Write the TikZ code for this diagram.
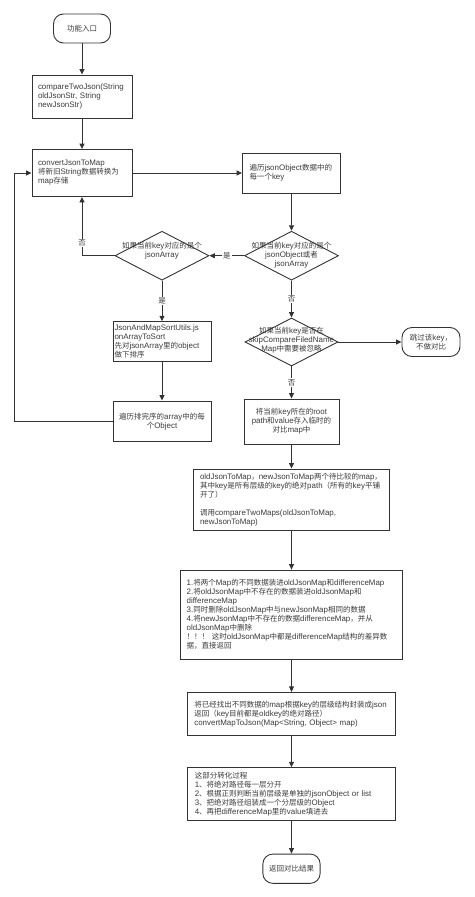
\documentclass[tikz,border=0pt]{standalone}
\usepackage{fontspec}
\setmainfont{Liberation Sans}
\newfontfamily\latfont[Scale=1.06]{Liberation Sans}
\newfontfamily\cjkfont{Noto Sans CJK SC}
\usetikzlibrary{arrows.meta,shapes.geometric}
\definecolor{lc}{HTML}{333333}
\definecolor{tc}{HTML}{3A3A3A}
\XeTeXinterchartokenstate=1
\newXeTeXintercharclass\CJKcls
\newcount\cjkcnt
\def\cjkrange#1#2{\cjkcnt=#1\relax
  \loop\XeTeXcharclass\cjkcnt=\CJKcls\relax
  \ifnum\cjkcnt<#2\relax\advance\cjkcnt by 1\relax\repeat}
\cjkrange{"4E00}{"9FFF}
\cjkrange{"3000}{"303F}
\cjkrange{"FF00}{"FFEF}
\XeTeXinterchartoks 0 \CJKcls = {\cjkfont}
\XeTeXinterchartoks 4095 \CJKcls = {\cjkfont}
\XeTeXinterchartoks \CJKcls 0 = {\latfont}
\XeTeXinterchartoks \CJKcls 4095 = {\latfont}
\newcommand\dfont{\fontsize{7.5}{9}\selectfont\latfont}
\begin{document}
\begin{tikzpicture}[x=1pt,y=-1pt,
  >={Triangle[length=5.5pt,width=5pt]},
  every node/.style={text=tc, font=\dfont},
  base/.style={draw=lc, line width=0.9pt, inner sep=0pt},
  term/.style={base, rounded corners=10pt, align=center},
  lbox/.style={base, align=left},
  cbox/.style={base, align=center},
  dia/.style={base, diamond},
  dtxt/.style={align=center, inner sep=0pt},
  lab/.style={fill=white, inner sep=1pt},
  line/.style={draw=lc, line width=0.9pt, ->}
]
\useasboundingbox (0,0) rectangle (474,897);

% left column
\node[term, minimum width=57pt, minimum height=29pt] (start) at (82,28.5) {功能入口};
\node[lbox, inner xsep=6pt, text width=88pt, minimum height=43pt] (cmp) at (82,96.5) {compareTwoJson(String\\oldJsonStr, String\\newJsonStr)};
\node[lbox, inner xsep=6pt, text width=88pt, minimum height=47pt] (conv) at (82,173) {convertJsonToMap\\将新旧String数据转换为\\map存储};

% right column
\node[lbox, inner xsep=7pt, text width=84pt, minimum height=40pt] (trav) at (291.5,173) {遍历jsonObject数据中的\\每一个key};
\node[dia, minimum width=94pt, minimum height=49pt] (d1) at (291.5,255.7) {};
\node[dtxt] (d1t) at (291.5,255) {如果当前key对应的是个\\jsonObject或者\\jsonArray};

% middle column
\node[dia, minimum width=94pt, minimum height=49pt] (d2) at (162,255.7) {};
\node[dtxt] (d2t) at (162,250.5) {如果当前key对应的是个\\jsonArray};
\node[lbox, inner xsep=1.5pt, text width=95pt, minimum height=40pt] (sort) at (162,341.7) {JsonAndMapSortUtils.js\\onArrayToSort\\先对jsonArray里的object\\做下排序};
\node[cbox, minimum width=98pt, minimum height=40.7pt] (each) at (162,421.3) {遍历排完序的array中的每\\个Object};

% right column continued
\node[dia, minimum width=93pt, minimum height=48pt] (d3) at (291.5,342) {};
\node[dtxt] (d3t) at (291.5,340) {如果当前key是否在\\skipCompareFiledName\\Map中需要被忽略};
\node[term, minimum width=58pt, minimum height=29pt] (skip) at (431,342) {跳过该key，\\不做对比};
\node[cbox, minimum width=95pt, minimum height=45pt] (root) at (291.5,421.5) {将当前key所在的root\\path和value存入临时的\\对比map中};

% lower boxes
\node[lbox, inner xsep=6.5pt, text width=183pt, minimum height=61.7pt] (old) at (291.5,499.8) {oldJsonToMap，newJsonToMap两个待比较的map，\\其中key是所有层级的key的绝对path（所有的key平铺\\开了）\\[9pt]调用compareTwoMaps(oldJsonToMap,\\newJsonToMap)};
\node[lbox, inner xsep=6pt, text width=209.6pt, minimum height=89.3pt] (diff) at (291.5,614.7) {1.将两个Map的不同数据装进oldJsonMap和differenceMap\\2.将oldJsonMap中不存在的数据装进oldJsonMap和\\differenceMap\\3.同时删除oldJsonMap中与newJsonMap相同的数据\\4.将newJsonMap中不存在的数据differenceMap，并从\\oldJsonMap中删除\\！！！ 这时oldJsonMap中都是differenceMap结构的差异数\\据，直接返回};
\node[lbox, inner xsep=7pt, text width=194.4pt, minimum height=42.7pt] (conv2) at (291.5,713.7) {将已经找出不同数据的map根据key的层级结构封装成json\\返回（key目前都是oldkey的绝对路径）\\convertMapToJson(Map<String, Object> map)};
\node[lbox, inner xsep=7.5pt, text width=193.4pt, minimum height=52.6pt] (proc) at (291.5,794) {这部分转化过程\\1、将绝对路径每一层分开\\2、根据正则判断当前层级是单独的jsonObject or list\\3、把绝对路径组装成一个分层级的Object\\4、再把differenceMap里的value填进去};
\node[term, minimum width=57.3pt, minimum height=29.3pt] (end) at (291.5,868.7) {返回对比结果};

\coordinate (loopx) at (14,0);

% connectors
\draw[line] (start) -- (cmp);
\draw[line] (cmp) -- (conv);
\draw[line] (conv) -- (trav);
\draw[line] (trav) -- (d1);
\draw[line] (d1.west) -- node[lab]{是} (d2.east);
\draw[line] (d2.west) -| node[lab, pos=0.61]{否} (conv.south);
\draw[line] (d2.south) -- node[lab]{是} (sort);
\draw[line] (sort) -- (each);
\draw[line] (each.west) -- (each.west -| loopx) |- (conv.west);
\draw[line] (d1.south) -- node[lab]{否} (d3.north);
\draw[line] (d3.east) -- (skip);
\draw[line] (d3.south) -- node[lab]{否} (root);
\draw[line] (root) -- (old);
\draw[line] (old) -- (diff);
\draw[line] (diff) -- (conv2);
\draw[line] (conv2) -- (proc);
\draw[line] (proc) -- (end);
\end{tikzpicture}
\end{document}
